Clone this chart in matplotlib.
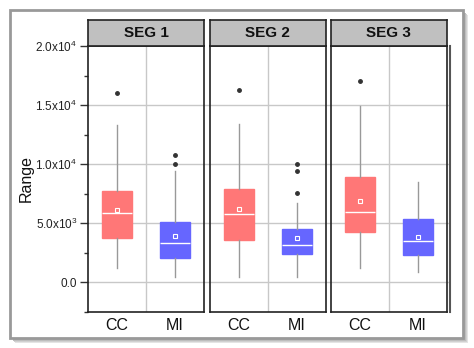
import matplotlib
matplotlib.use("Agg")
import matplotlib.pyplot as plt
from matplotlib.patches import Rectangle

plt.rcParams["font.family"] = ["Liberation Sans", "DejaVu Sans"]
plt.rcParams["mathtext.default"] = "regular"

# data
segments = ["SEG 1", "SEG 2", "SEG 3"]
groups = ["CC", "MI"]
whis_lo = [[1200, 450], [500, 500], [1250, 900]]
q1 = [[3750, 2100], [3550, 2400], [4300, 2300]]
median = [[5900, 3350], [5800, 3200], [6000, 3500]]
mean = [[6100, 3950], [6200, 3800], [6900, 3850]]
q3 = [[7700, 5150], [7900, 4500], [8900, 5350]]
whis_hi = [[13300, 9450], [13400, 6750], [14900, 8500]]
outliers = [[[16000], [10000, 10750]],
            [[16300], [7600, 9400, 10000]],
            [[17000], []]]
colors = ["#ff7777", "#6666ff"]

yticks = [0, 5000, 10000, 15000, 20000]
ytick_labels = ["0.0", "5.0x10$^3$", "1.0x10$^4$", "1.5x10$^4$", "2.0x10$^4$"]
ylim = (-2500, 20000)

W, H = 474, 348
fig = plt.figure(figsize=(W / 100, H / 100), dpi=100)

def fx(px):
    return px / W

def fy(py):
    return 1 - py / H

# outer frame with a soft shadow
for k, c in enumerate(["#e4e4e4", "#d0d0d0", "#bdbdbd"]):
    off = 5 - k
    fig.patches.append(Rectangle((fx(10 + off), fy(338 + off)), fx(453), fy(10) - fy(338),
                                 transform=fig.transFigure, facecolor=c,
                                 edgecolor="none", zorder=-6 + k * 0.1))
fig.patches.append(Rectangle((fx(10), fy(338)), fx(453), fy(10) - fy(338),
                             transform=fig.transFigure, facecolor="white",
                             edgecolor="#999999", linewidth=2, zorder=-4))

ax_bottom = fy(312)
ax_h = fy(46) - fy(312)

# background axes carrying the horizontal grid across all panels
bg = fig.add_axes([fx(88.3), ax_bottom, fx(450) - fx(88.3), ax_h])
bg.set_ylim(*ylim)
bg.set_xlim(0, 1)
for y in yticks[:-1]:
    bg.axhline(y, color="#c8c8c8", lw=1, zorder=0)
bg.set_facecolor("none")
for s in ["left", "top", "bottom"]:
    bg.spines[s].set_visible(False)
bg.spines["right"].set_color("#555555")
bg.spines["right"].set_linewidth(1.5)
bg.set_xticks([])
bg.set_yticks([])

panel_left = [88.3, 210, 331]
panel_w = 115.7

for i, seg in enumerate(segments):
    ax = fig.add_axes([fx(panel_left[i]), ax_bottom, fx(panel_w), ax_h])
    ax.set_facecolor("none")
    stats = []
    for j, g in enumerate(groups):
        stats.append({
            "med": median[i][j], "q1": q1[i][j], "q3": q3[i][j],
            "whislo": whis_lo[i][j], "whishi": whis_hi[i][j],
            "mean": mean[i][j], "fliers": outliers[i][j], "label": g,
        })
    res = ax.bxp(stats, positions=[1, 2], widths=0.52, patch_artist=True,
                 showmeans=True, showcaps=False,
                 whiskerprops=dict(color="#999999", lw=1),
                 medianprops=dict(color="white", lw=1),
                 flierprops=dict(marker="o", markersize=2.5,
                                 markerfacecolor="#333333",
                                 markeredgecolor="#333333"),
                 meanprops=dict(marker="s", markersize=3.3,
                                markeredgecolor="white", markeredgewidth=0.8))
    for j, box in enumerate(res["boxes"]):
        box.set_facecolor(colors[j])
        box.set_edgecolor(colors[j])
        res["means"][j].set_markerfacecolor(colors[j])
    ax.axvline(1.5, color="#c8c8c8", lw=1, zorder=0)
    ax.set_xlim(0.5, 2.5)
    ax.set_ylim(*ylim)
    ax.set_xticks([1, 2])
    ax.set_xticklabels(groups, fontsize=11.5, color="#111111")
    ax.tick_params(axis="x", length=0, pad=4)
    for s in ax.spines.values():
        s.set_color("#222222")
        s.set_linewidth(1.2)
    if i == 0:
        ax.set_yticks(yticks)
        ax.set_yticklabels(ytick_labels, fontsize=8.5, color="#222222")
        ax.set_yticks([-2500, 2500, 7500, 12500, 17500], minor=True)
        ax.tick_params(axis="y", which="major", length=6, width=1, color="#333333", pad=2)
        ax.tick_params(axis="y", which="minor", length=3, width=1, color="#333333")
    else:
        ax.set_yticks([])

    # strip header
    st = fig.add_axes([fx(panel_left[i]), fy(46), fx(panel_w), fy(20) - fy(46)])
    st.set_facecolor("#c0c0c0")
    st.set_xticks([])
    st.set_yticks([])
    for s in st.spines.values():
        s.set_color("#222222")
        s.set_linewidth(1.2)
    st.text(0.5, 0.5, seg, ha="center", va="center", fontsize=11,
            fontweight="bold", color="#111111", transform=st.transAxes)

fig.text(fx(26), fy(179), "Range", rotation=90, ha="center", va="center",
         fontsize=11.5, color="#111111")

fig.savefig("out.png", dpi=100)
